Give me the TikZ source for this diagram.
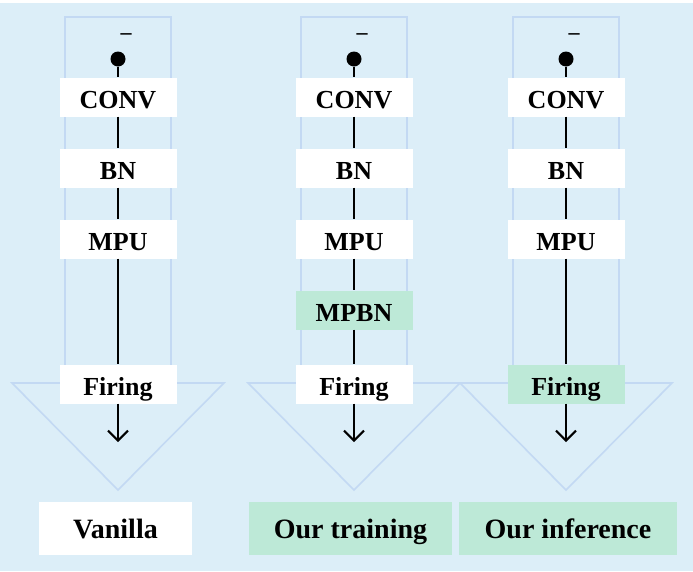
\documentclass[tikz,border=0pt]{standalone}
\usepackage{fontspec}
\setmainfont{Liberation Serif}
\usetikzlibrary{arrows.meta}
\definecolor{bgc}{HTML}{DCEEF8}
\definecolor{edge}{HTML}{C3D9F3}
\definecolor{grn}{HTML}{BDE9D7}
\begin{document}
\begin{tikzpicture}[x=1pt,y=-1pt,
 blk/.style={fill=white,minimum width=117pt,minimum height=39pt,font=\bfseries\fontsize{26}{26}\selectfont,inner sep=0pt,text height=23pt,text depth=0pt},
 lab/.style={minimum height=53pt,font=\bfseries\fontsize{28}{28}\selectfont,inner sep=0pt,text height=20pt,text depth=0pt},
 frame/.style={draw=edge,line width=1.6pt}]
\useasboundingbox (0,0) rectangle (693,571);
\fill[bgc] (0,3) rectangle (693,571);
\foreach \c/\n in {118/a,354/b,566/c}{
  \draw[frame] (\c-53,383) -- (\c-53,17) -- (\c+53,17) -- (\c+53,383);
  \draw[frame] (\c-106,383) -- (\c+106,383) -- (\c,490) -- cycle;
  \node[circle,fill=black,inner sep=0pt,minimum size=15pt] (\n dot) at (\c,59) {};
  \node[font=\bfseries\fontsize{22}{22}\selectfont,inner sep=0pt] (\n m) at (\c+8,37) {\textendash};
  \node[blk] (\n conv) at (\c,97) {CONV};
  \node[blk] (\n bn) at (\c,168) {BN};
  \node[blk] (\n mpu) at (\c,239) {MPU};
  \coordinate (\n end) at (\c,442);
}
\node[blk] (afire) at (118,384) {Firing};
\node[blk] (bfire) at (354,384) {Firing};
\node[blk,fill=grn] (cfire) at (566,384) {Firing};
\node[blk,fill=grn] (bmpbn) at (354,310) {MPBN};
\foreach \n in {a,b,c}{
  \draw[line width=2.2pt] (\n dot) -- (\n conv);
  \draw[line width=2.2pt] (\n conv) -- (\n bn);
  \draw[line width=2.2pt] (\n bn) -- (\n mpu);
  \draw[line width=2pt,-{Straight Barb[length=10pt,width=20pt]}] (\n fire) -- (\n end);
}
\draw[line width=2.2pt] (ampu) -- (afire);
\draw[line width=2.2pt] (bmpu) -- (bmpbn);
\draw[line width=2.2pt] (bmpbn) -- (bfire);
\draw[line width=2.2pt] (cmpu) -- (cfire);
\node[lab,fill=white,minimum width=153pt] (van) at (115.5,528.5) {Vanilla};
\node[lab,fill=grn,minimum width=203pt] (tr) at (350.5,528.5) {Our training};
\node[lab,fill=grn,minimum width=218pt] (inf) at (568,528.5) {Our inference};
\end{tikzpicture}
\end{document}
